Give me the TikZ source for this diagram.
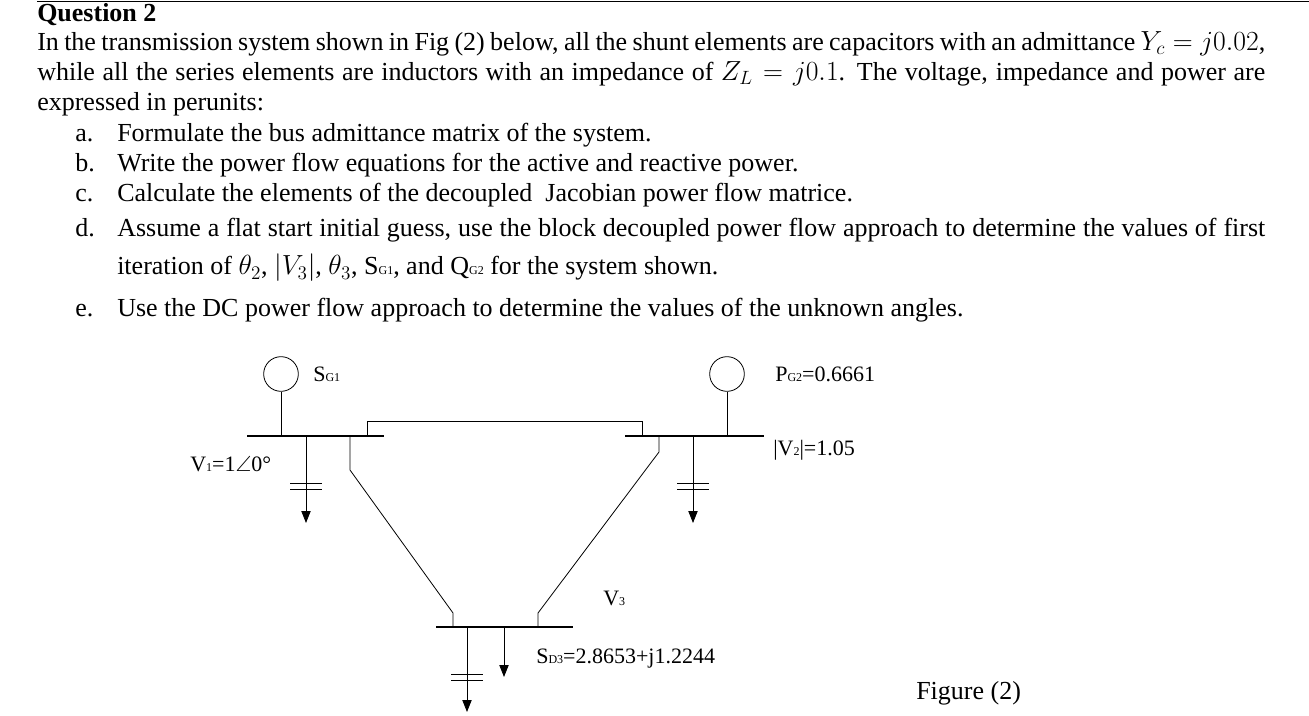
\documentclass[tikz,border=0pt]{standalone}
\usepackage{amsmath}
\usepackage{amssymb}
\usepackage{fontspec}
\setmainfont{Liberation Serif}
\usetikzlibrary{arrows.meta,calc}
\tikzset{
  bus/.style={line width=0.8pt},
  wire/.style={line width=0.6pt},
  load/.style={line width=0.6pt,-{Triangle[length=9pt,width=7pt]}},
  txt/.style={anchor=base west,inner sep=0pt,font=\fontsize{19.5}{22.5}\selectfont},
  lbl/.style={anchor=base west,inner sep=0pt,font=\fontsize{16.5}{19}\selectfont}
}
\newcommand{\cpl}[1]{%
  \draw[wire] ($(#1)+(-16,47)$) -- ++(32,0);
  \draw[wire] ($(#1)+(-16,53)$) -- ++(32,0);}
\begin{document}
\begin{tikzpicture}[x=0.75pt, y=-0.75pt]
            \useasboundingbox (0,0) rectangle (1309,716);
            \draw[line width=0.6pt] (37,1) -- (1309,1);
            % question text
            \node[txt,font=\bfseries\fontsize{19.5}{22.5}\selectfont] (q) at (37,22) {Question 2};
            \node[anchor=north west,inner sep=0pt,text width=921pt,align=justify,font=\fontsize{19.5}{22.5}\selectfont] (intro) at (37,31)
              {In the transmission system shown in Fig (2) below, all the shunt elements are capacitors with an admittance $Y_c = j0.02$, while all the series elements are inductors with an impedance of $Z_L = j0.1$. The voltage, impedance and power are expressed in perunits:};
            \node[txt] (la) at (75,142) {a.};
            \node[txt] (ta) at (117,142) {Formulate the bus admittance matrix of the system.};
            \node[txt] (lb) at (75,172) {b.};
            \node[txt] (tb) at (117,172) {Write the power flow equations for the active and reactive power.};
            \node[txt] (lc) at (75,202) {c.};
            \node[txt] (tc) at (117,202) {Calculate the elements of the decoupled\ \ Jacobian power flow matrice.};
            \node[txt] (ld) at (75,237) {d.};
            \node[anchor=base west,inner sep=0pt,text width=861pt,align=justify,font=\fontsize{19.5}{28.5}\selectfont] (td) at (117,237)
              {Assume a flat start initial guess, use the block decoupled power flow approach to determine the values of first iteration of $\theta_2$, $\left|V_3\right|$, $\theta_3$, S{\small G1}, and Q{\small G2} for the system shown.};
            \node[txt] (le) at (75,317) {e.};
            \node[txt] (te) at (117,317) {Use the DC power flow approach to determine the values of the unknown angles.};
            % buses
            \coordinate (b1l) at (247,436); \coordinate (b1r) at (384,436);
            \coordinate (b2l) at (625,436); \coordinate (b2r) at (764,436);
            \coordinate (b3l) at (436,627); \coordinate (b3r) at (573,627);
            \draw[bus] (b1l) -- (b1r);
            \draw[bus] (b2l) -- (b2r);
            \draw[bus] (b3l) -- (b3r);
            % generators
            \node[draw,circle,minimum size=26pt,inner sep=0pt,wire] (g1) at (281,374) {};
            \node[draw,circle,minimum size=26pt,inner sep=0pt,wire] (g2) at (727,374) {};
            \coordinate (g1b) at (281,436); \coordinate (g2b) at (727,436);
            \draw[wire] (g1) -- (g1b);
            \draw[wire] (g2) -- (g2b);
            % lines
            \coordinate (a1) at (367,436); \coordinate (a2) at (367,421);
            \coordinate (a3) at (642,421); \coordinate (a4) at (642,436);
            \draw[wire] (a1) -- (a2) -- (a3) -- (a4);
            \coordinate (l1) at (350,436); \coordinate (l2) at (350,470);
            \coordinate (l3) at (453,613); \coordinate (l4) at (453,627);
            \draw[wire] (l1) -- (l2) -- (l3) -- (l4);
            \coordinate (r1) at (659,436); \coordinate (r2) at (659,452);
            \coordinate (r3) at (538,613); \coordinate (r4) at (538,627);
            \draw[wire] (r1) -- (r2) -- (r3) -- (r4);
            % shunt capacitors
            \coordinate (c1) at (306,436); \coordinate (c1e) at (306,523);
            \coordinate (c2) at (693,436); \coordinate (c2e) at (693,523);
            \coordinate (c3) at (467,627); \coordinate (c3e) at (467,712);
            \draw[load] (c1) -- (c1e); \cpl{c1}
            \draw[load] (c2) -- (c2e); \cpl{c2}
            \draw[load] (c3) -- (c3e); \cpl{c3}
            % load at bus 3
            \coordinate (d3) at (504,627); \coordinate (d3e) at (504,677);
            \draw[load] (d3) -- (d3e);
            % labels
            \node[lbl] (sg1) at (313,381) {S{\small G1}};
            \node[lbl] (pg2) at (775,381) {P{\small G2}=0.6661};
            \node[lbl] (v2) at (773,455) {|V{\small 2}|=1.05};
            \node[lbl] (v1) at (190,471) {V{\small 1}=1$\angle$0\textdegree};
            \node[lbl] (v3) at (603,605) {V{\small 3}};
            \node[lbl] (sd3) at (536,663) {S{\small D3}=2.8653+j1.2244};
            \node[txt] (fig) at (916,699) {Figure (2)};
        \end{tikzpicture}
\end{document}
